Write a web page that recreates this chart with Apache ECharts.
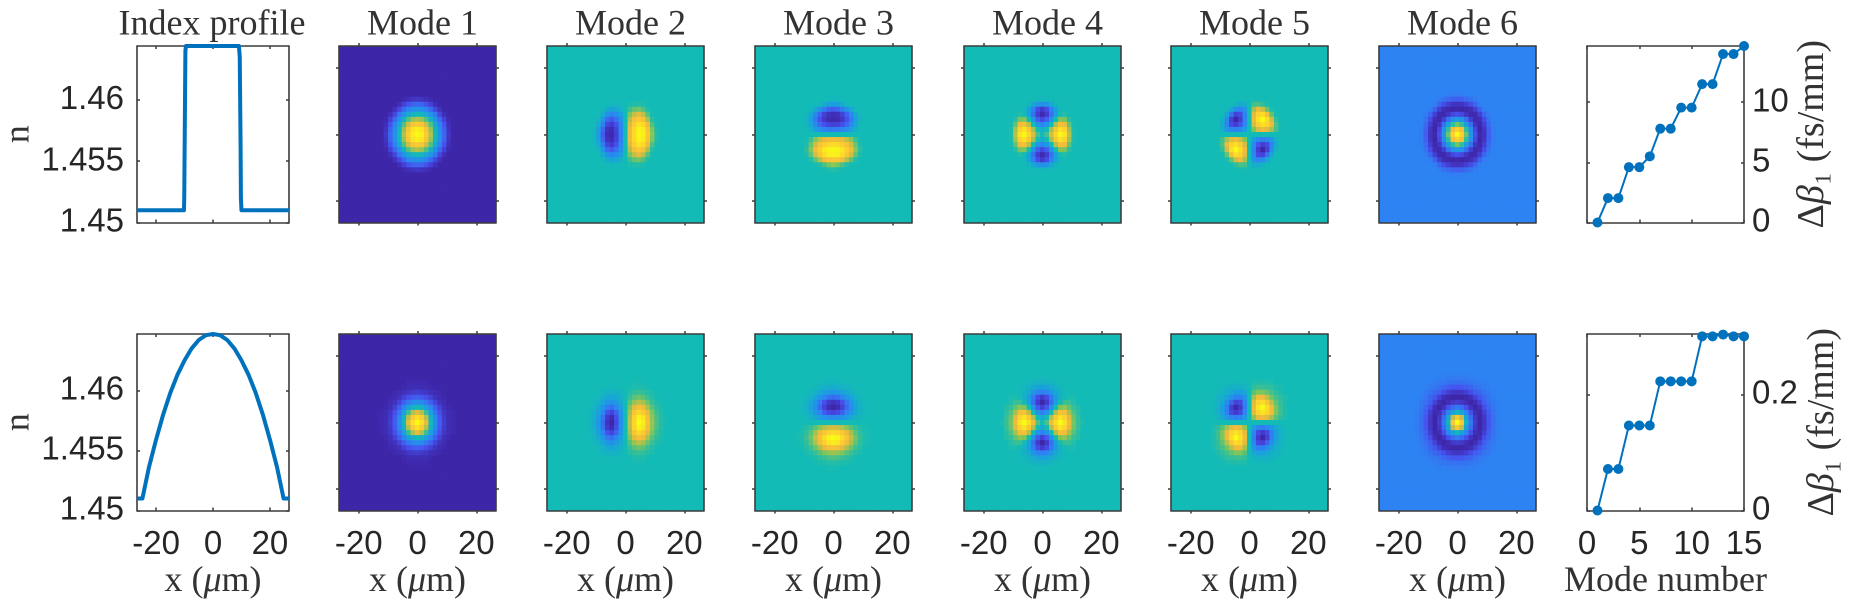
<!DOCTYPE html>
<html>
<head>
<meta charset="utf-8">
<style>
  html, body { margin: 0; background: #fff; }
  #chart { width: 1849px; height: 608px; filter: blur(0.7px); }
</style>
<script src="https://cdn.jsdelivr.net/npm/echarts@6/dist/echarts.min.js"></script>
</head>
<body>
<div id="chart"></div>
<script>
const titles = ['Index profile', 'Mode 1', 'Mode 2', 'Mode 3', 'Mode 4', 'Mode 5', 'Mode 6'];
const xTicks = [-20, 0, 20];
const nTicks = [1.45, 1.455, 1.46];
const modeTicks = [0, 5, 10, 15];
const betaTicksTop = [0, 5, 10];
const betaTicksBottom = [0, 0.2];

// index profiles
const stepX = [-26.7, -10.2, -10.1, -9.7, -9.5, 9.1, 9.4, 9.7, 9.8, 10, 26.7];
const stepN = [1.451, 1.451, 1.452, 1.464, 1.4644, 1.4644, 1.4635, 1.456, 1.452, 1.451, 1.451];
const gradedX = [-26.7, -24.8, -22.5, -20, -17.5, -15, -12.5, -10, -7.5, -5, -2.5, 0, 2.5, 5, 7.5, 10, 12.5, 15, 17.5, 20, 22.5, 24.8, 26.7];
const gradedN = [1.451, 1.451, 1.4536, 1.4559, 1.458, 1.4598, 1.4613, 1.4625, 1.4635, 1.4642, 1.4646, 1.4647, 1.4646, 1.4642, 1.4635, 1.4625, 1.4613, 1.4598, 1.458, 1.4559, 1.4536, 1.451, 1.451];

// group delay per mode
const modeNumbers = [1, 2, 3, 4, 5, 6, 7, 8, 9, 10, 11, 12, 13, 14, 15];
const deltaBetaStep = [0, 2.03, 2.03, 4.6, 4.6, 5.5, 7.8, 7.8, 9.55, 9.55, 11.5, 11.5, 14, 14, 14.67];
const deltaBetaGraded = [0, 0.0715, 0.0715, 0.1464, 0.1464, 0.1464, 0.2225, 0.2225, 0.2225, 0.2225, 0.3, 0.3, 0.303, 0.3, 0.3];

// mode fields, one quadrant each: rows go out in y, columns out in x, 1.5 um apart
const stepMode1 = [
  [100, 97, 87, 68, 50, 32, 18, 5],
  [97, 94, 83, 65, 47, 31, 17, 4],
  [87, 83, 71, 57, 41, 26, 13, 3],
  [68, 65, 57, 45, 32, 19, 8, 1],
  [50, 47, 41, 32, 22, 10, 3],
  [32, 31, 26, 19, 10, 4],
  [18, 17, 13, 8, 3],
  [5, 4, 3, 1]
];
const stepMode2 = [
  [0, 52, 84, 98, 95, 70, 28, 4],
  [0, 51, 82, 96, 92, 65, 24, 3],
  [0, 46, 75, 88, 81, 52, 14, 1],
  [0, 37, 60, 72, 62, 34, 5],
  [0, 24, 40, 48, 38, 15, 1],
  [0, 10, 18, 22, 14, 3],
  [0, 2, 3, 4, 2]
];
const stepMode3 = [
  [],
  [54, 53, 49, 40, 26, 10, 1],
  [84, 82, 76, 63, 43, 20, 3],
  [98, 96, 90, 76, 54, 26, 6],
  [95, 93, 84, 66, 44, 18, 3],
  [70, 66, 54, 36, 17, 4],
  [28, 23, 13, 4, 1],
  [4, 3, 1]
];
const stepMode4 = [
  [0, 12, 45, 80, 98, 88, 38, 3],
  [-12, 0, 33, 68, 87, 78, 32, 3],
  [-45, -33, 0, 36, 59, 52, 18, 1],
  [-80, -68, -36, 0, 25, 23, 5],
  [-98, -87, -59, -25, 0, 4],
  [-88, -78, -52, -23, -4],
  [-38, -32, -18, -5],
  [-3, -3, -1]
];
const stepMode5 = [
  [],
  [0, 25, 44, 51, 47, 33, 11, 1],
  [0, 44, 75, 86, 79, 50, 13, 1],
  [0, 51, 86, 100, 84, 42, 7],
  [0, 47, 79, 84, 58, 19, 1],
  [0, 33, 50, 42, 19, 3],
  [0, 11, 13, 7, 1],
  [0, 1, 1]
];
const stepMode6 = [
  [100, 85, 48, 13, -17, -32, -28, -12, -2],
  [85, 72, 38, 8, -20, -33, -27, -11, -2],
  [48, 38, 18, -6, -27, -32, -23, -8, -1],
  [13, 8, -6, -23, -32, -30, -18, -5],
  [-17, -20, -27, -32, -31, -23, -9, -2],
  [-32, -33, -32, -30, -23, -11, -2],
  [-28, -27, -23, -18, -9, -2],
  [-12, -11, -8, -5, -2],
  [-2, -2, -1]
];
const gradedMode1 = [
  [100, 93, 74, 50, 30, 16, 7, 2, 1],
  [93, 87, 68, 46, 28, 15, 6, 2, 1],
  [74, 68, 54, 37, 22, 12, 5, 2, 1],
  [50, 46, 37, 26, 16, 8, 3, 1],
  [30, 28, 22, 16, 9, 4, 2],
  [16, 15, 12, 8, 4, 2, 1],
  [7, 6, 5, 3, 2, 1],
  [2, 2, 2, 1],
  [1, 1, 1]
];
const gradedMode2 = [
  [0, 40, 80, 100, 92, 62, 32, 13, 4, 1],
  [0, 38, 77, 96, 88, 58, 29, 12, 4, 1],
  [0, 33, 66, 82, 74, 48, 24, 9, 3],
  [0, 24, 48, 60, 54, 34, 16, 6, 2],
  [0, 15, 30, 38, 33, 20, 9, 3, 1],
  [0, 8, 16, 20, 17, 10, 4, 1],
  [0, 4, 7, 9, 7, 4, 2],
  [0, 1, 2, 3, 2, 1],
  [0, 0, 1, 1, 1]
];
const gradedMode3 = [
  [],
  [44, 42, 36, 26, 16, 8, 4, 1],
  [82, 79, 68, 50, 32, 17, 7, 2, 1],
  [100, 96, 84, 62, 40, 21, 9, 3, 1],
  [92, 88, 76, 56, 35, 18, 7, 2, 1],
  [62, 58, 48, 34, 20, 10, 4, 1],
  [32, 29, 24, 16, 9, 4, 2],
  [13, 12, 9, 6, 3, 1],
  [4, 4, 3, 2, 1],
  [1, 1]
];
const gradedMode4 = [
  [0, 15, 52, 85, 100, 88, 52, 23, 8, 2],
  [-15, 0, 36, 71, 88, 78, 47, 21, 8],
  [-52, -36, 0, 37, 60, 55, 33, 15, 5],
  [-85, -71, -37, 0, 25, 28, 18, 8, 4],
  [-100, -88, -60, -25, 0, 9, 8, 4],
  [-88, -78, -55, -28, -9, 0, 2, 2],
  [-52, -47, -33, -18, -8, -2],
  [-23, -21, -15, -8, -4, -2],
  [-8, -8, -5, -4],
  [-2, -2, -1]
];
const gradedMode5 = [
  [],
  [0, 28, 48, 53, 47, 33, 16, 6, 2],
  [0, 48, 80, 88, 80, 52, 25, 10, 3],
  [0, 53, 88, 100, 84, 52, 24, 9, 3],
  [0, 47, 80, 84, 66, 38, 18, 7, 3],
  [0, 33, 52, 52, 38, 22, 12, 6, 2],
  [0, 16, 25, 24, 18, 12, 6, 3],
  [0, 6, 10, 9, 7, 6, 3, 1],
  [0, 2, 3, 3, 3, 2]
];
const gradedMode6 = [
  [100, 78, 30, -3, -24, -33, -27, -15, -6, -2],
  [78, 60, 20, -7, -26, -33, -26, -14, -6, -2],
  [30, 20, 2, -17, -30, -32, -23, -12, -5, -2],
  [-3, -7, -17, -28, -33, -29, -18, -9, -4, -1],
  [-24, -26, -30, -33, -30, -22, -12, -6, -3, -1],
  [-33, -33, -32, -29, -22, -14, -9, -4, -2],
  [-27, -26, -23, -18, -12, -9, -5, -3, -1],
  [-15, -14, -12, -9, -6, -4, -3, -1],
  [-6, -6, -5, -4, -3, -2, -1],
  [-2, -2, -2, -1, -1]
];

const stepModes = [stepMode1, stepMode2, stepMode3, stepMode4, stepMode5, stepMode6];
const gradedModes = [gradedMode1, gradedMode2, gradedMode3, gradedMode4, gradedMode5, gradedMode6];
// sign of each quadrant: x>0 y>0, x<0 y>0, x<0 y<0, x>0 y<0
const quadrantSigns = [[1, 1, 1, 1], [1, -1, -1, 1], [-1, -1, 1, 1], [1, 1, 1, 1], [1, -1, 1, -1], [1, 1, 1, 1]];
// colour limits per mode, the zero level sits at a different colour
const modeLimits = [[0, 100], [-100, 100], [-100, 100], [-100, 100], [-100, 100], [-33, 100]];
const modeBackgrounds = ['#3E26A8', '#13BBB6', '#13BBB6', '#13BBB6', '#13BBB6', '#2D84F2'];

const parula = ['#3E26A8', '#4750EE', '#2D84F2', '#1B9FE0', '#13BBB6', '#7FC65A', '#F0BA3C', '#FDCB32', '#F9FB15'];
const blue = '#0072BD';
const frameColor = '#3c3c3c';
const sansText = { fontFamily: 'Liberation Sans', fontSize: 33, color: '#262626' };
const serif = { fontFamily: 'Liberation Serif', fontSize: 36, color: '#333' };

const panelLefts = [131, 339, 547, 755, 964, 1171, 1379, 1587];
const panelTops = [46, 334];
const panelWidths = [158, 157, 157, 157, 157, 157, 157, 157];
const titleNudge = [-3, 0, 0, 0, 0, 0, 0];
const panelHeight = 176.5;
const xRange = 26.7;
const halfCells = 17;

const cells = [];
for (let k = -halfCells; k <= halfCells; k++) cells.push(k * 1.5);

const expandQuadrant = (quad, signs) => {
    const out = [];
    for (let iy = -halfCells; iy <= halfCells; iy++) {
        for (let ix = -halfCells; ix <= halfCells; ix++) {
            const row = quad[Math.abs(iy)] || [];
            const v = row[Math.abs(ix)] || 0;
            const s = iy >= 0 ? (ix >= 0 ? signs[0] : signs[1]) : (ix < 0 ? signs[2] : signs[3]);
            out.push([ix + halfCells, iy + halfCells, v * s]);
        }
    }
    return out;
};

const option = {
    animation: false,
    backgroundColor: '#fff',
    title: [],
    grid: [],
    xAxis: [],
    yAxis: [],
    series: [],
    visualMap: []
};

const xName = '{r|x (}{i|\u03bc}{r|m)}';
const nameRich = {
    r: { ...serif },
    i: { ...serif, fontStyle: 'italic' }
};

// the frame of a panel is four axes, the ticks stick in or out of it
const addFrame = (gridIndex, cfg) => {
    const line = { show: true, onZero: false, lineStyle: { color: frameColor, width: 1.6 } };
    const tick = (values, inside) => ({
        show: true, inside, length: 3, customValues: values,
        lineStyle: { color: frameColor, width: 1.5 }
    });
    const hidden = { show: false };
    const base = { type: 'value', gridIndex, splitLine: { show: false }, z: 5 };
    const xLabel = cfg.xLabels
        ? { show: true, customValues: cfg.xLabels, margin: 18, hideOverlap: false, formatter: v => String(v), ...sansText }
        : hidden;
    const yLabel = cfg.yLabels
        ? { show: true, customValues: cfg.yLabels, margin: cfg.yPosition === 'left' ? 13 : 8, hideOverlap: false, formatter: cfg.yFormat, ...sansText }
        : hidden;
    const first = option.xAxis.length;
    const firstY = option.yAxis.length;
    option.xAxis.push({
        ...base, position: 'bottom', min: cfg.xMin, max: cfg.xMax, axisLine: line,
        axisTick: tick(cfg.xTicks, cfg.inside), axisLabel: xLabel,
        name: cfg.xName, nameLocation: 'middle', nameGap: 53, nameTextStyle: { ...serif, rich: nameRich }
    });
    option.xAxis.push({
        ...base, position: 'top', min: cfg.xMin, max: cfg.xMax, axisLine: line,
        axisTick: tick(cfg.xTicks, cfg.inside), axisLabel: hidden
    });
    const labelled = {
        ...base, position: cfg.yPosition, min: cfg.yMin, max: cfg.yMax, axisLine: line,
        axisTick: tick(cfg.yTicks, cfg.inside), axisLabel: yLabel,
        name: cfg.yName, nameLocation: 'middle', nameRotate: 90, nameGap: cfg.yNameGap,
        nameTextStyle: { ...serif, fontSize: cfg.yNameSize || 36, rich: cfg.yRich }
    };
    const other = {
        ...base, position: cfg.yPosition === 'left' ? 'right' : 'left', min: cfg.yMin, max: cfg.yMax, axisLine: line,
        axisTick: tick(cfg.yTicks, cfg.inside), axisLabel: hidden
    };
    option.yAxis.push(labelled, other);
    return { x: first, y: firstY };
};

const addLine = (axes, xs, ys, opts) => {
    option.series.push({
        type: 'line',
        xAxisIndex: axes.x,
        yAxisIndex: axes.y,
        data: xs.map((x, i) => [x, ys[i]]),
        clip: false,
        silent: true,
        z: 6,
        lineStyle: { color: blue, width: opts.width, join: 'round' },
        itemStyle: { color: blue },
        showSymbol: opts.symbol > 0,
        symbol: 'circle',
        symbolSize: opts.symbol
    });
};

const rows = [
    { modes: stepModes, indexX: stepX, indexN: stepN, nMax: 1.4644, beta: deltaBetaStep, betaMax: 14.67, betaTicks: betaTicksTop, betaGap: 50 },
    { modes: gradedModes, indexX: gradedX, indexN: gradedN, nMax: 1.4647, beta: deltaBetaGraded, betaMax: 0.304, betaTicks: betaTicksBottom, betaGap: 60 }
];

const heatGroups = modeLimits.map(() => []);

rows.forEach((row, r) => {
    const top = panelTops[r];
    const bottomRow = r === rows.length - 1;
    panelLefts.forEach((left, p) => {
        const gridIndex = option.grid.length;
        const width = panelWidths[p];
        const isHeat = p > 0 && p < panelLefts.length - 1;
        option.grid.push({
            left, top, width, height: panelHeight,
            show: isHeat, borderWidth: 0,
            backgroundColor: isHeat ? modeBackgrounds[p - 1] : 'transparent'
        });
        if (r === 0 && p < titles.length) {
            option.title.push({
                text: titles[p], left: left + width / 2 + titleNudge[p], top: 2, textAlign: 'center',
                textStyle: { ...serif, fontWeight: 'normal' }
            });
        }
        if (p === 0) {
            const axes = addFrame(gridIndex, {
                xMin: -xRange, xMax: xRange, xTicks, inside: true,
                xLabels: bottomRow ? xTicks : null, xName: bottomRow ? xName : '',
                yMin: 1.45, yMax: row.nMax, yTicks: nTicks, yLabels: nTicks, yFormat: v => String(+v.toFixed(3)),
                yPosition: 'left', yName: 'n', yNameGap: 100, yRich: nameRich
            });
            addLine(axes, row.indexX, row.indexN, { width: 4, symbol: 0 });
        } else if (p === panelLefts.length - 1) {
            const axes = addFrame(gridIndex, {
                xMin: 0, xMax: 15, xTicks: modeTicks, inside: true,
                xLabels: bottomRow ? modeTicks : null, xName: bottomRow ? 'Mode number' : '',
                yMin: 0, yMax: row.betaMax, yTicks: row.betaTicks, yLabels: row.betaTicks, yFormat: v => String(v),
                yPosition: 'right', yName: '{r|\u0394}{i|\u03b2}{r|\u2081 (fs/mm)}', yNameGap: row.betaGap,
                yNameSize: 38, yRich: { r: { ...serif, fontSize: 38 }, i: { ...serif, fontSize: 38, fontStyle: 'italic' } }
            });
            addLine(axes, modeNumbers, row.beta, { width: 2, symbol: 10 });
        } else {
            const m = p - 1;
            addFrame(gridIndex, {
                xMin: -xRange, xMax: xRange, xTicks, inside: false,
                xLabels: bottomRow ? xTicks : null, xName: bottomRow ? xName : '',
                yMin: -xRange, yMax: xRange, yTicks: xTicks, yLabels: null,
                yPosition: 'left', yName: '', yNameGap: 0, yRich: nameRich
            });
            const catX = option.xAxis.length;
            const catY = option.yAxis.length;
            option.xAxis.push({ type: 'category', gridIndex, data: cells, show: false });
            option.yAxis.push({ type: 'category', gridIndex, data: cells, show: false });
            heatGroups[m].push(option.series.length);
            option.series.push({
                type: 'heatmap',
                xAxisIndex: catX,
                yAxisIndex: catY,
                data: expandQuadrant(row.modes[m], quadrantSigns[m]),
                progressive: 0,
                silent: true,
                z: 2
            });
        }
    });
});

heatGroups.forEach((seriesIndex, m) => {
    option.visualMap.push({
        type: 'continuous',
        show: false,
        seriesIndex,
        min: modeLimits[m][0],
        max: modeLimits[m][1],
        inRange: { color: parula }
    });
});

const chart = echarts.init(document.getElementById('chart'), null, { devicePixelRatio: 2 });
chart.setOption(option);
</script>
</body>
</html>
